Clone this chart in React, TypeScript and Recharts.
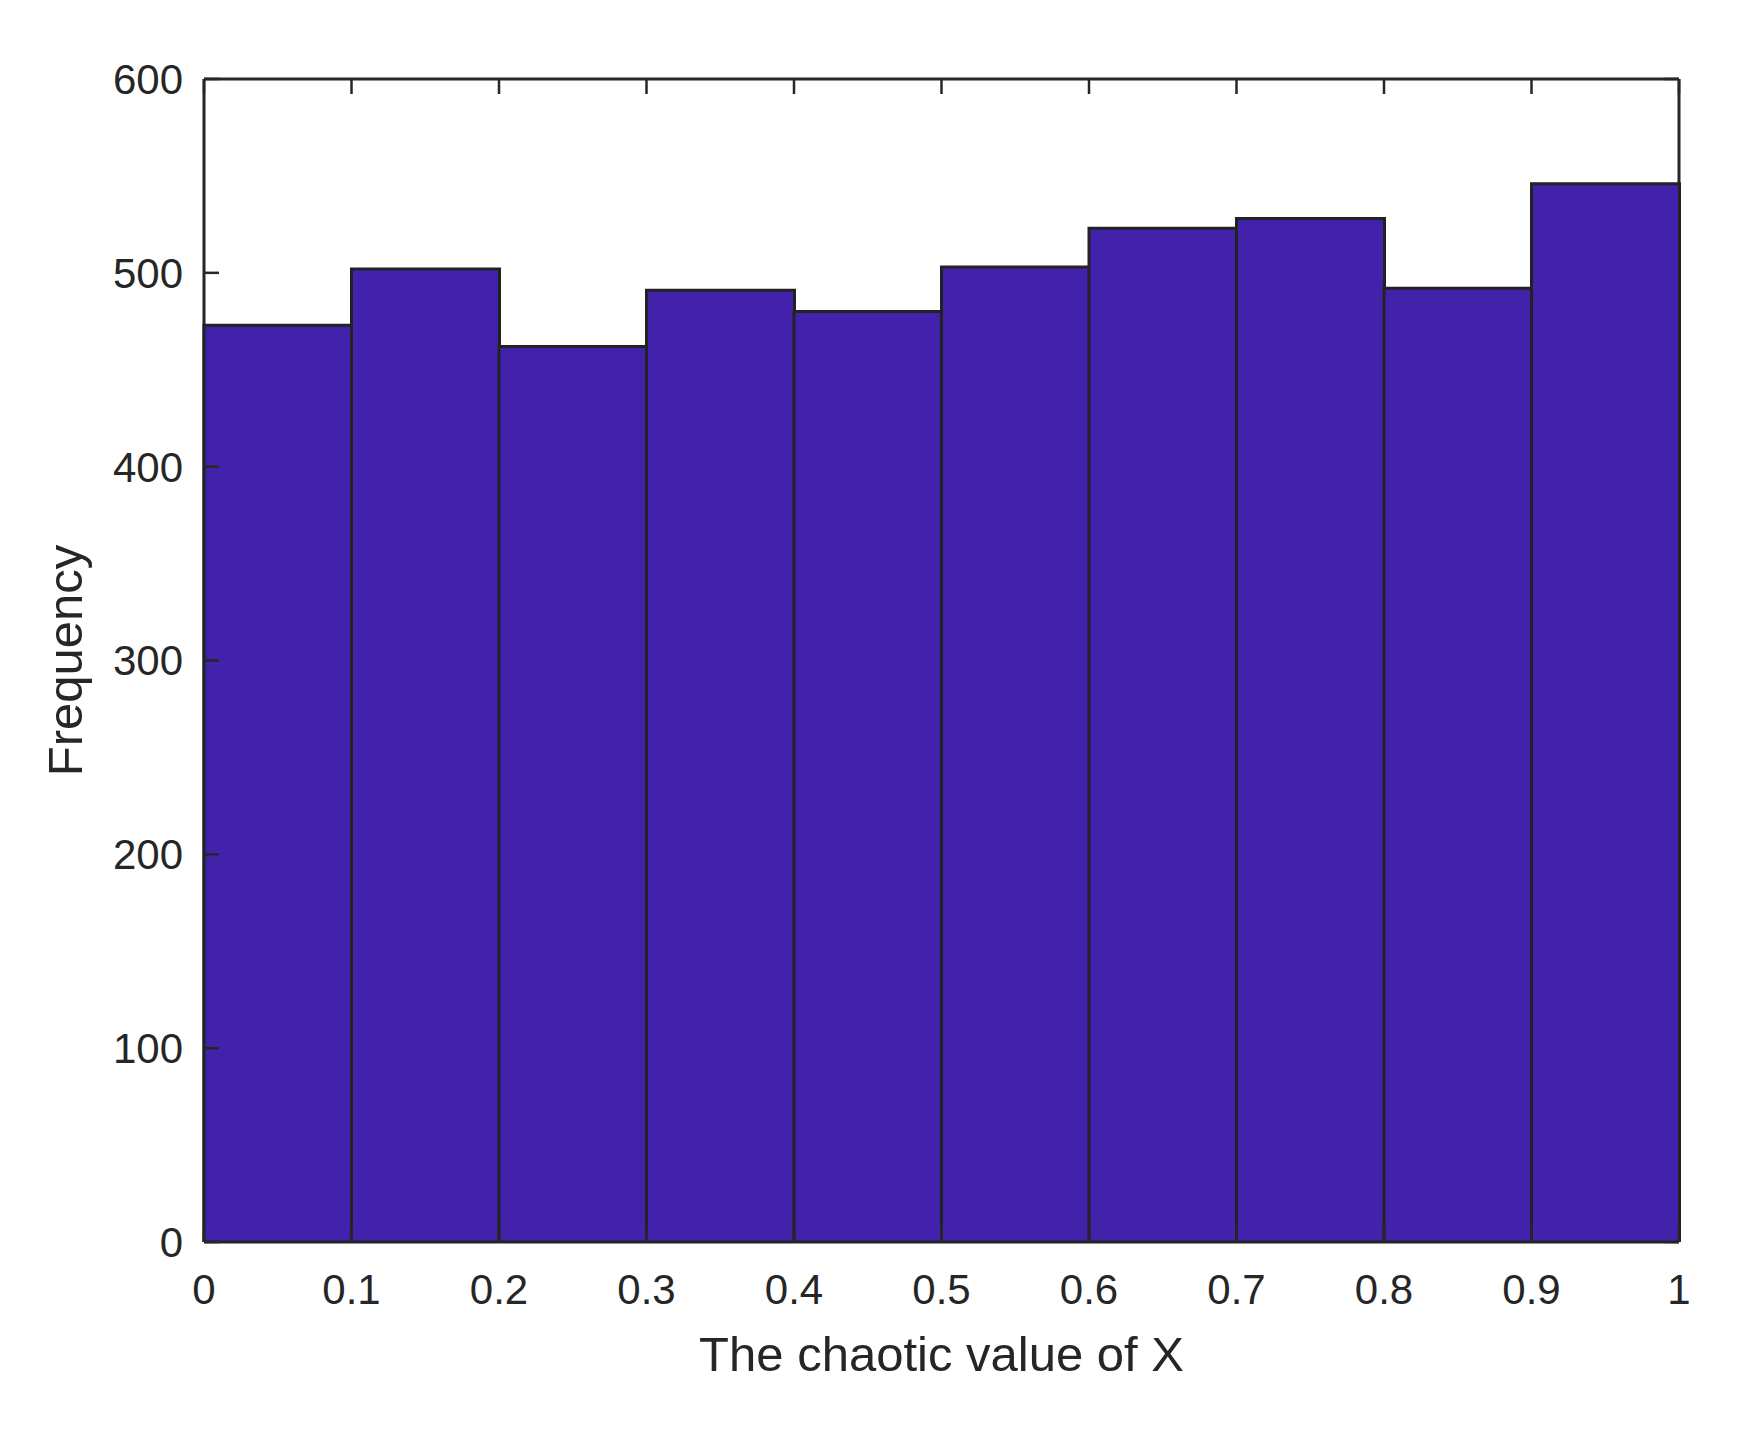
import { BarChart, Bar, XAxis, YAxis } from 'recharts';

const binLabels = ['0-0.1', '0.1-0.2', '0.2-0.3', '0.3-0.4', '0.4-0.5', '0.5-0.6', '0.6-0.7', '0.7-0.8', '0.8-0.9', '0.9-1'];
const binStarts = [0, 0.1, 0.2, 0.3, 0.4, 0.5, 0.6, 0.7, 0.8, 0.9];
const frequencies = [473, 502, 462, 491, 480, 503, 523, 528, 492, 546];
const xTicks = [0, 0.1, 0.2, 0.3, 0.4, 0.5, 0.6, 0.7, 0.8, 0.9, 1];
const yTicks = [0, 100, 200, 300, 400, 500, 600];

const data = binLabels.map((bin, i) => ({ bin, start: binStarts[i], count: frequencies[i] }));

const ink = '#262626';
const font = '"Liberation Sans", Arial, Helvetica, sans-serif';
const axisLine = { stroke: ink, strokeWidth: 3 };
const innerTick = { stroke: ink, strokeWidth: 2.5 };
const X_GAP = 32;
const Y_GAP = 21;
const TICK_LEN = 15;

const NoLabel = () => <g />;

// label below the axis plus a short tick pointing into the plot
const BottomTick = (props: any) => {
  const { x, y, payload } = props;
  const axisY = y - X_GAP;
  return (
    <g>
      <line x1={x} x2={x} y1={axisY} y2={axisY - TICK_LEN} stroke={ink} strokeWidth={2.5} />
      <text x={x} y={y} dy="0.71em" textAnchor="middle" fontSize={42} fill={ink} fontFamily={font}>
        {payload.value}
      </text>
    </g>
  );
};

const LeftTick = (props: any) => {
  const { x, y, payload } = props;
  const axisX = x + Y_GAP;
  return (
    <g>
      <line x1={axisX} x2={axisX + TICK_LEN} y1={y} y2={y} stroke={ink} strokeWidth={2.5} />
      <text x={x} y={y} dy="0.355em" textAnchor="end" fontSize={42} fill={ink} fontFamily={font}>
        {payload.value}
      </text>
    </g>
  );
};

export default function App() {
  return (
    <div style={{ width: 1741, height: 1414, fontFamily: font }}>
      <BarChart
        width={1741}
        height={1414}
        data={data}
        margin={{ top: 71, right: 70, bottom: 80, left: 0 }}
        barCategoryGap={0}
        barGap={0}
      >
        <XAxis
          xAxisId="num"
          dataKey="start"
          type="number"
          domain={[0, 1]}
          allowDataOverflow
          ticks={xTicks}
          interval={0}
          height={100}
          tickLine={false}
          tickSize={0}
          tickMargin={X_GAP}
          axisLine={axisLine}
          tick={BottomTick}
          zIndex={100}
          label={{ value: 'The chaotic value of X', position: 'bottom', offset: -6, style: { fontSize: 49, fill: ink, fontFamily: font } }}
        />
        <XAxis
          xAxisId="top"
          dataKey="start"
          orientation="top"
          type="number"
          domain={[0, 1]}
          allowDataOverflow
          ticks={xTicks}
          interval={0}
          mirror
          tickSize={TICK_LEN}
          tickLine={innerTick}
          axisLine={axisLine}
          tick={NoLabel}
          zIndex={100}
        />
        <YAxis
          yAxisId="freq"
          type="number"
          domain={[0, 600]}
          allowDataOverflow
          ticks={yTicks}
          interval={0}
          width={196}
          tickLine={false}
          tickSize={0}
          tickMargin={Y_GAP}
          axisLine={axisLine}
          tick={LeftTick}
          zIndex={100}
          label={{ value: 'Frequency', angle: -90, position: 'insideLeft', offset: 57, style: { fontSize: 49, fill: ink, fontFamily: font, textAnchor: 'middle' } }}
        />
        <YAxis
          yAxisId="right"
          orientation="right"
          type="number"
          domain={[0, 600]}
          allowDataOverflow
          ticks={yTicks}
          interval={0}
          mirror
          tickSize={TICK_LEN}
          tickLine={innerTick}
          axisLine={axisLine}
          tick={NoLabel}
          zIndex={100}
        />
        <XAxis xAxisId="bins" dataKey="bin" hide height={0} />
        <Bar
          xAxisId="bins"
          yAxisId="freq"
          dataKey="count"
          fill="#4222AA"
          stroke="#222222"
          strokeWidth={3}
          zIndex={600}
          isAnimationActive={false}
        />
      </BarChart>
    </div>
  );
}
